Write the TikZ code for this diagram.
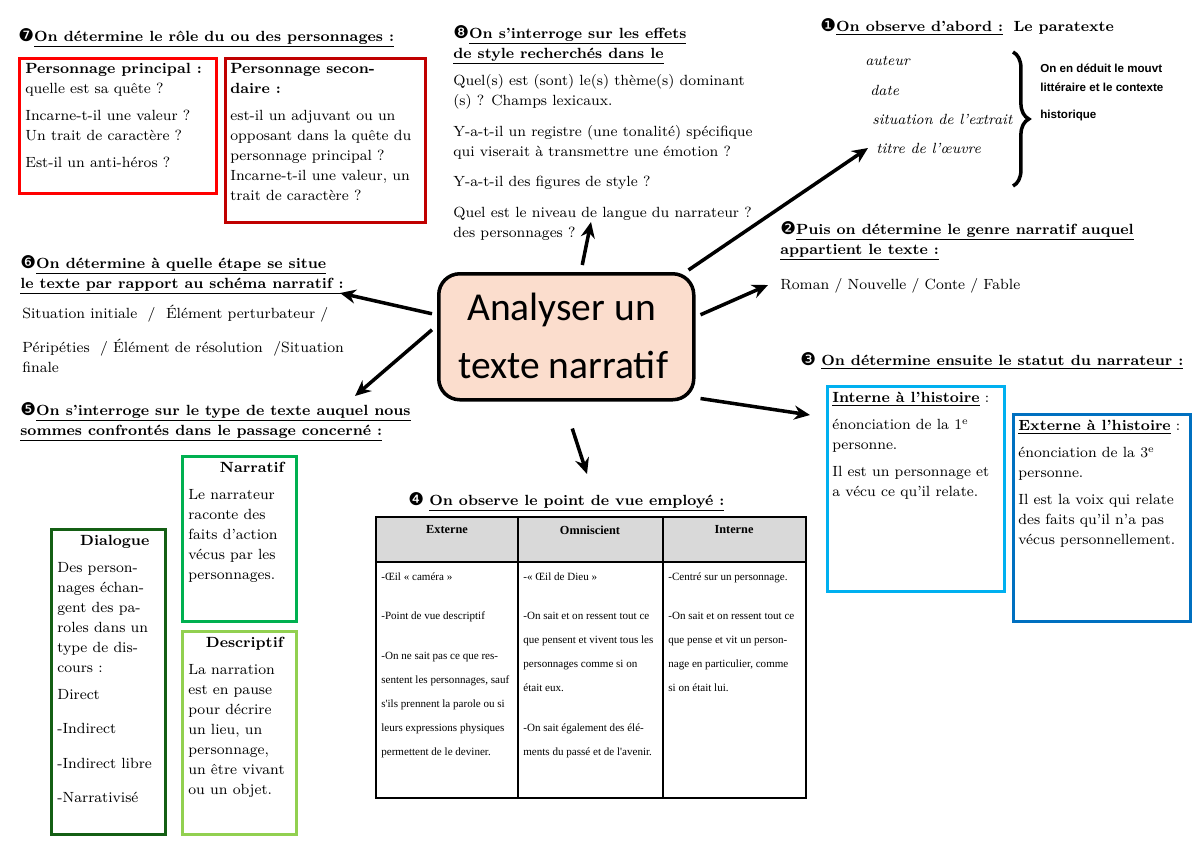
\documentclass[tikz,border=0pt]{standalone}
\usepackage{fontspec}
\usepackage{tikz}
\usetikzlibrary{arrows.meta,calc,positioning,decorations.pathreplacing}
\newfontfamily\calib{Carlito}
\newfontfamily\dejavu{DejaVu Sans}
\newfontfamily\arialf{Liberation Sans}
\newfontfamily\timesf{Liberation Serif}
\newcommand{\txt}{\fontsize{8.4}{11.4}\selectfont}
\newcommand{\hd}[1]{\underline{\textbf{#1}}}
\newcommand{\num}[1]{{\dejavu\fontsize{10}{11}\selectfont #1}}
\definecolor{peach}{RGB}{251,221,205}
\definecolor{redA}{RGB}{255,0,0}
\definecolor{redB}{RGB}{192,0,0}
\definecolor{blueA}{RGB}{0,176,240}
\definecolor{blueB}{RGB}{0,112,192}
\definecolor{greenA}{RGB}{0,176,80}
\definecolor{greenB}{RGB}{20,95,20}
\definecolor{greenC}{RGB}{146,208,80}
\definecolor{headgray}{RGB}{217,217,217}
\tikzset{
  txtnode/.style={anchor=north west,inner sep=0pt,align=left,font=\txt},
  box/.style={draw,line width=1.7pt,anchor=north west,inner sep=0pt},
  arrow/.style={-{Stealth[length=9pt,width=8pt]},line width=2pt},
  cell/.style={anchor=north west,inner sep=0pt,align=left,font=\timesf\fontsize{6.3}{13.6}\selectfont}
}
\begin{document}
\begin{tikzpicture}[x=0.02cm,y=-0.02cm]
\useasboundingbox (0,0) rectangle (1200,849);
% centre
\node[draw,line width=2pt,fill=peach,rounded corners=12pt,minimum width=255*0.02cm,minimum height=126*0.02cm,anchor=north west] (C) at (437,272) {};
\node[font=\calib\fontsize{22.5}{33}\selectfont,align=left,anchor=north west,inner sep=0pt] (T) at (458,293) {\ Analyser un\\texte narratif};
% free ends of the arrows
\coordinate (e1) at (868,148);
\coordinate (e2) at (768,285);
\coordinate (e3) at (810,415);
\coordinate (e4) at (587,474);
\coordinate (e5) at (355,396);
\coordinate (e6) at (340,293);
\coordinate (e8) at (591,222);
\path[arrow]
(C.north east) ++(-7,-2) coordinate (s1) edge (e1)
(C.east) ++(5,-22) coordinate (s2) edge (e2)
(C.south east) ++(5,-3) coordinate (s3) edge (e3)
(C.south) ++(6,27) coordinate (s4) edge (e4)
(C.west) ++(-5,-7) coordinate (s5) edge (e5)
(C.west) ++(-5,-23) coordinate (s6) edge (e6)
(C.north) ++(16,-7) coordinate (s8) edge (e8);
% 7
\node[txtnode] (h7) at (18,28) {\num{❼}\hd{On détermine le rôle du ou des personnages :}};
\node[box,draw=redA,minimum width=197*0.02cm,minimum height=135*0.02cm] (b7a) at (18,57) {};
\node[txtnode] (t7a) at (25,63) {\textbf{Personnage principal :}\\quelle est sa quête ?\\[4pt]Incarne-t-il une valeur ?\\Un trait de caractère ?\\[4pt]Est-il un anti-héros ?};
\node[box,draw=redB,minimum width=200*0.02cm,minimum height=164*0.02cm] (b7b) at (224,57) {};
\node[txtnode] (t7b) at (230,63) {\textbf{Personnage secon-}\\\textbf{daire :}\\[4pt]est-il un adjuvant ou un\\opposant dans la quête du\\personnage principal ?\\Incarne-t-il une valeur, un\\trait de caractère ?};
% 8
\node[txtnode] (h8) at (453,25) {\num{❽}\hd{On s'interroge sur les effets}\\\hd{de style recherchés dans le}};
\node[txtnode] (t8) at (453,74) {Quel(s) est (sont) le(s) thème(s) dominant\\(s) ? Champs lexicaux.\\[6pt]Y-a-t-il un registre (une tonalité) spécifique\\qui viserait à transmettre une émotion ?\\[6pt]Y-a-t-il des figures de style ?\\[6pt]Quel est le niveau de langue du narrateur ?\\des personnages ?};
% 1
\node[txtnode] (h1) at (820,18) {\num{❶}\hd{On observe d'abord :}\ \ \textbf{Le paratexte}};
\node[txtnode,font=\txt\itshape] (a1) at (865,56) {auteur};
\node[txtnode,font=\txt\itshape] (a2) at (870,85) {date};
\node[txtnode,font=\txt\itshape] (a3) at (872,114) {situation de l'extrait};
\node[txtnode,font=\txt\itshape] (a4) at (876,143) {titre de l'œuvre};
\draw[line width=2pt,decorate,decoration={brace,amplitude=9pt}] (1013,52) -- (1013,186);
\node[txtnode,font=\arialf\bfseries\fontsize{6.6}{10.5}\selectfont] (n1) at (1040,64) {On en déduit le mouvt\\littéraire et le contexte\\[5pt]historique};
% 2
\node[txtnode] (h2) at (780,221) {\num{❷}\hd{Puis on détermine le genre narratif auquel}\\\hd{appartient le texte :}};
\node[txtnode] (t2) at (780,278) {Roman / Nouvelle / Conte / Fable};
% 3
\node[txtnode] (h3) at (800,352) {\num{❸} \hd{On détermine ensuite le statut du narrateur :}};
\node[box,draw=blueA,minimum width=177*0.02cm,minimum height=205*0.02cm] (b3a) at (826,385) {};
\node[txtnode] (t3a) at (832,392) {\hd{Interne à l'histoire} :\\[4pt]énonciation de la 1\textsuperscript{e}\\personne.\\[4pt]Il est un personnage et\\a vécu ce qu'il relate.};
\node[box,draw=blueB,minimum width=177*0.02cm,minimum height=207*0.02cm] (b3b) at (1012,413) {};
\node[txtnode] (t3b) at (1018,420) {\hd{Externe à l'histoire} :\\[4pt]énonciation de la 3\textsuperscript{e}\\personne.\\[4pt]Il est la voix qui relate\\des faits qu'il n'a pas\\vécus personnellement.};
% 6
\node[txtnode] (h6) at (20,255) {\num{❻}\hd{On détermine à quelle étape se situe}\\\hd{le texte par rapport au schéma narratif :}};
\node[txtnode] (t6) at (22,305) {Situation initiale\ \ /\ \ Élément perturbateur /\\[8pt]Péripéties\ \ /\ Élément de résolution\ \ /Situation\\finale};
% 5
\node[txtnode] (h5) at (20,402) {\num{❺}\hd{On s'interroge sur le type de texte auquel nous}\\\hd{sommes confrontés dans le passage concerné :}};
\node[box,draw=greenA,minimum width=114*0.02cm,minimum height=165*0.02cm] (b5a) at (181,455) {};
\node[txtnode] (t5a) at (188,462) {\hspace*{18pt}\textbf{Narratif}\\[4pt]Le narrateur\\raconte des\\faits d'action\\vécus par les\\personnages.};
\node[box,draw=greenB,minimum width=114*0.02cm,minimum height=305*0.02cm] (b5b) at (50,528) {};
\node[txtnode] (t5b) at (57,535) {\hspace*{13pt}\textbf{Dialogue}\\[4pt]Des person-\\nages échan-\\gent des pa-\\roles dans un\\type de dis-\\cours :\\[4pt]Direct\\[8pt]-Indirect\\[8pt]-Indirect libre\\[8pt]-Narrativisé};
\node[box,draw=greenC,minimum width=114*0.02cm,minimum height=203*0.02cm] (b5c) at (181,630) {};
\node[txtnode] (t5c) at (188,637) {\hspace*{10pt}\textbf{Descriptif}\\[4pt]La narration\\est en pause\\pour décrire\\un lieu, un\\personnage,\\un être vivant\\ou un objet.};
% 4
\node[txtnode] (h4) at (408,492) {\num{❹} \hd{On observe le point de vue employé :}};
\fill[headgray] (376,517) rectangle (806,562);
\draw[line width=0.8pt] (376,517) rectangle (806,798) (376,562) -- (806,562)
  (518,517) -- (518,798) (663,517) -- (663,798);
\node[font=\timesf\fontsize{7}{8}\selectfont\bfseries] (c1) at (447,530) {Externe};
\node[font=\timesf\fontsize{7}{8}\selectfont\bfseries] (c2) at (590,530) {Omniscient};
\node[font=\timesf\fontsize{7}{8}\selectfont\bfseries] (c3) at (734,530) {Interne};
\node[cell] (x1) at (381,572) {-Œil « caméra »\\[9pt]-Point de vue descriptif\\[9pt]-On ne sait pas ce que res-\\sentent les personnages, sauf\\s'ils prennent la parole ou si\\leurs expressions physiques\\permettent de le deviner.};
\node[cell] (x2) at (523,572) {-« Œil de Dieu »\\[9pt]-On sait et on ressent tout ce\\que pensent et vivent tous les\\personnages comme si on\\était eux.\\[9pt]-On sait également des élé-\\ments du passé et de l'avenir.};
\node[cell] (x3) at (668,572) {-Centré sur un personnage.\\[9pt]-On sait et on ressent tout ce\\que pense et vit un person-\\nage en particulier, comme\\si on était lui.};
\end{tikzpicture}
\end{document}
